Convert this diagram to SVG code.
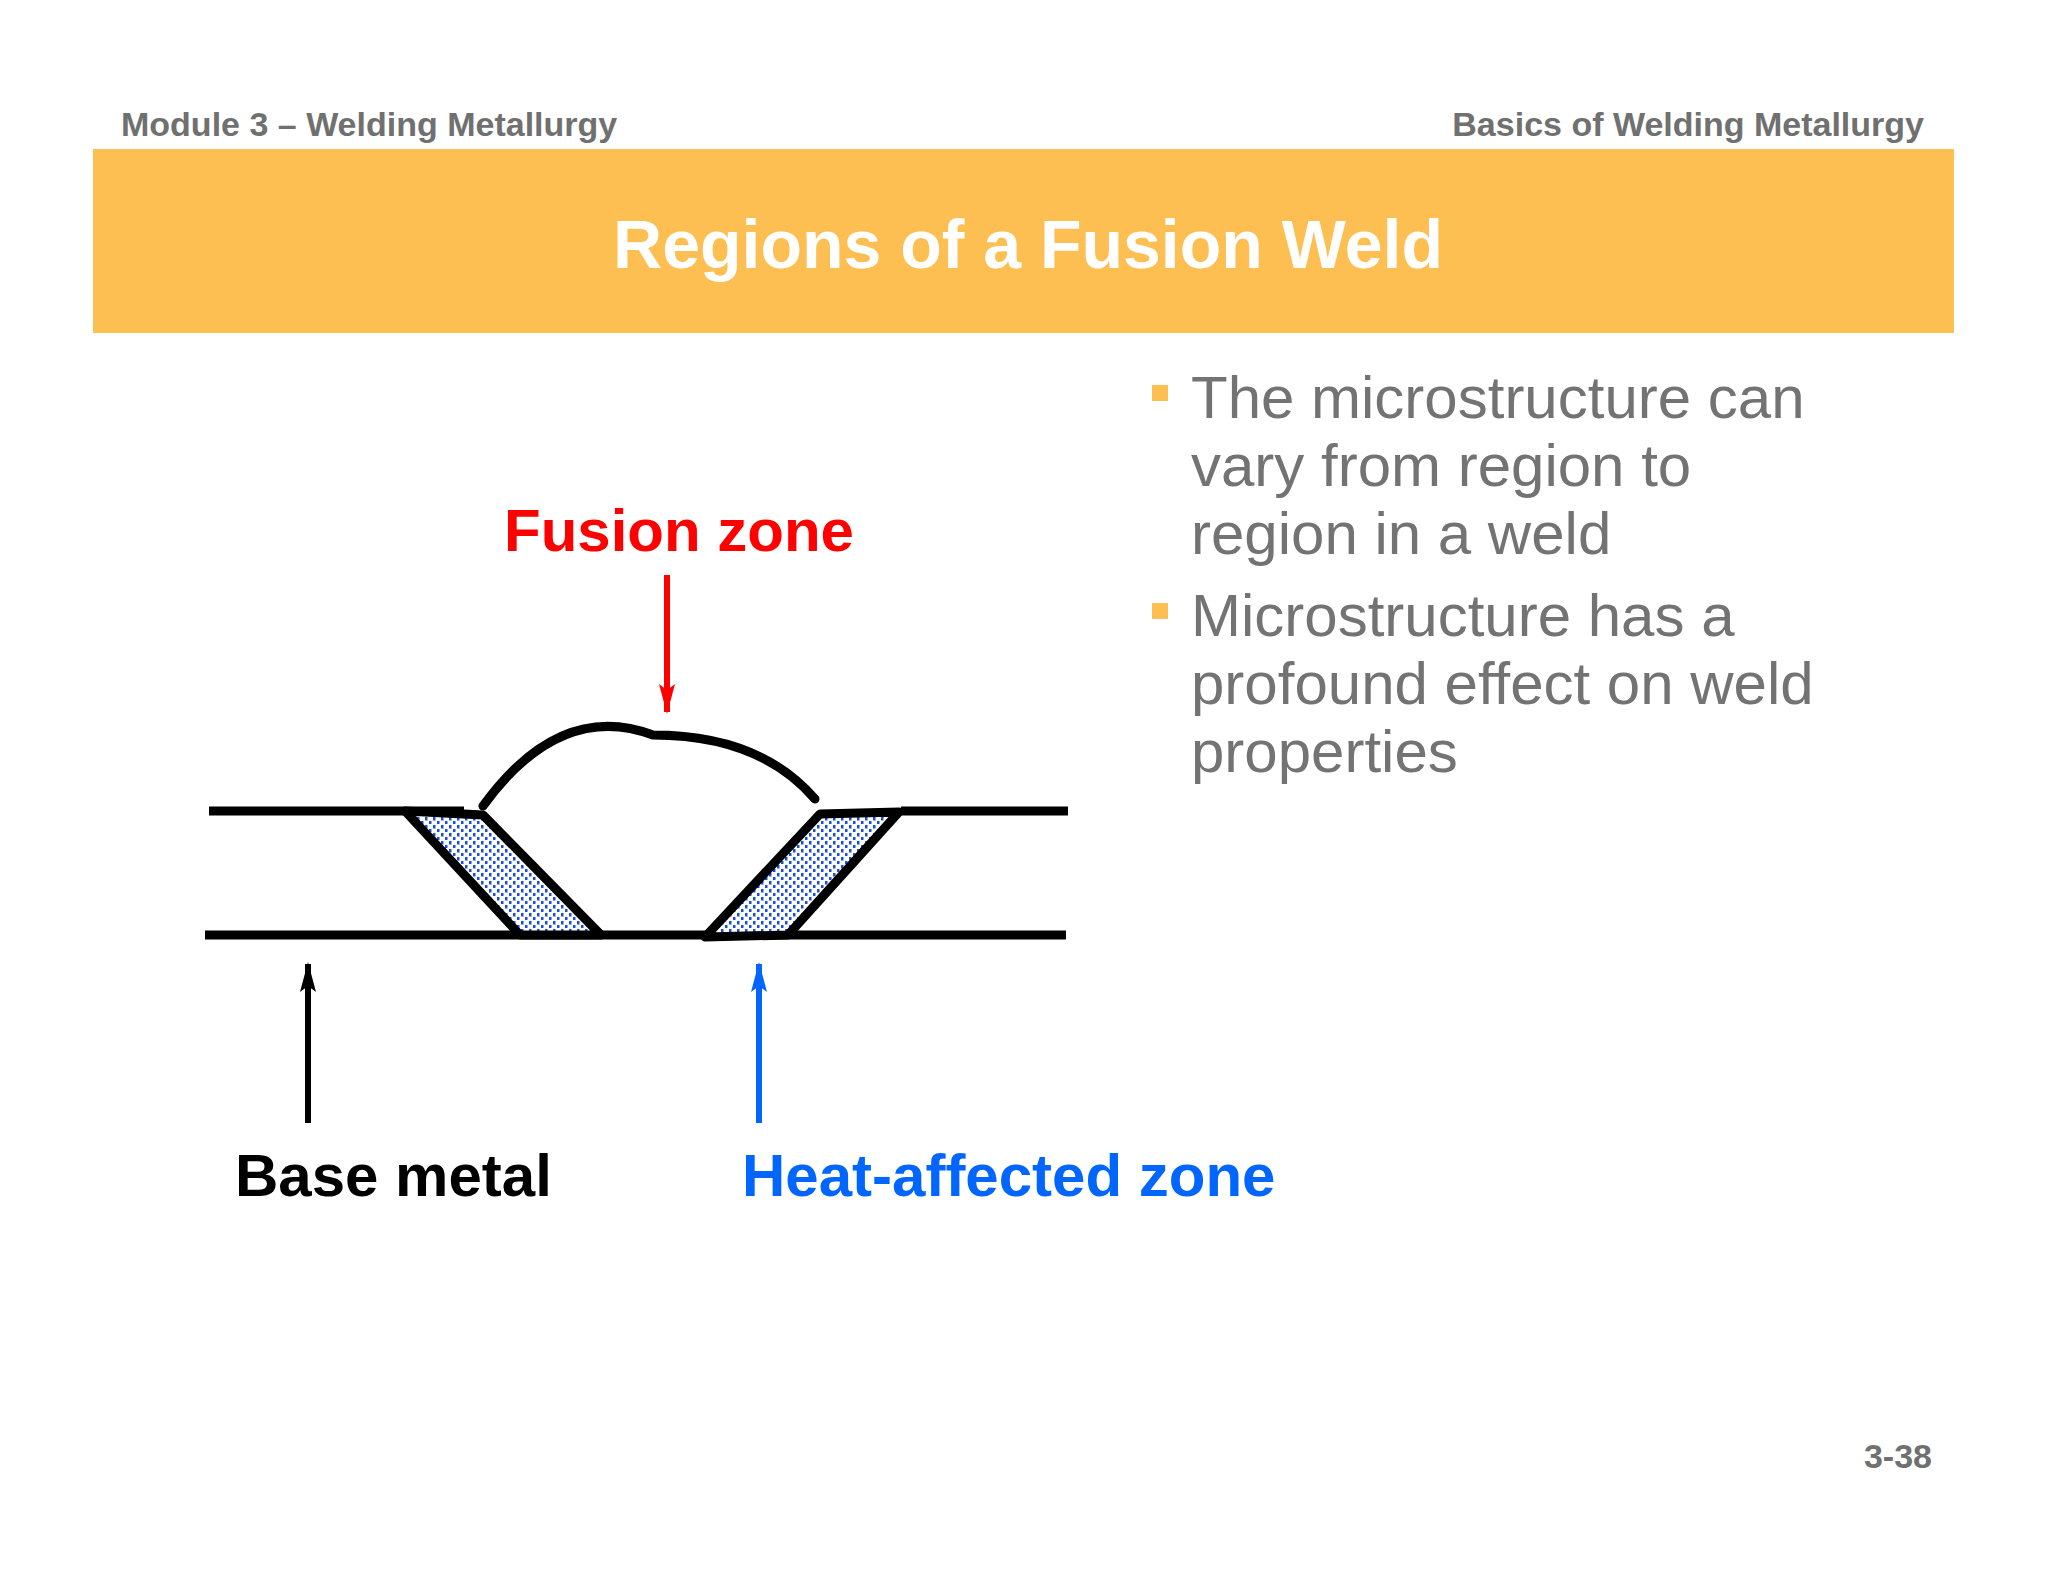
<svg xmlns="http://www.w3.org/2000/svg" width="2048" height="1582" viewBox="0 0 2048 1582">
<style>
.hdr{font-family:"Liberation Sans",Arial,sans-serif;font-weight:bold;font-size:34px;fill:#707070}
.bul{font-family:"Liberation Sans",Arial,sans-serif;font-size:60px;fill:#737373}
.lbl{font-family:"Liberation Sans",Arial,sans-serif;font-weight:bold;font-size:60px}
.ln{stroke:#000;stroke-width:9;fill:none}
</style>
<defs>
<pattern id="dots" width="8" height="8" patternUnits="userSpaceOnUse">
<rect width="8" height="8" fill="#ffffff"/>
<rect x="1" y="1" width="2.5" height="3.5" fill="#1a4fd6"/>
<rect x="5" y="5" width="2.5" height="3.5" fill="#1a4fd6"/>
</pattern>
<marker id="ar" markerWidth="8" markerHeight="8" refX="7" refY="4" orient="auto" markerUnits="userSpaceOnUse" viewBox="0 0 8 8"><path d="M0,0 L8,4 L0,8 Z" fill="context-stroke"/></marker>
<marker id="ar2" markerWidth="30" markerHeight="20" refX="28" refY="10" orient="auto" markerUnits="userSpaceOnUse"><path d="M0,2 L30,10 L0,18 L6,10 Z" fill="#ff0000"/></marker>
<marker id="ak" markerWidth="30" markerHeight="20" refX="28" refY="10" orient="auto" markerUnits="userSpaceOnUse"><path d="M0,2 L30,10 L0,18 L6,10 Z" fill="#000"/></marker>
<marker id="ab" markerWidth="30" markerHeight="20" refX="28" refY="10" orient="auto" markerUnits="userSpaceOnUse"><path d="M0,2 L30,10 L0,18 L6,10 Z" fill="#0066ff"/></marker>
</defs>
<rect width="2048" height="1582" fill="#fff"/>
<text class="hdr" x="121" y="136">Module 3 – Welding Metallurgy</text>
<text class="hdr" x="1924" y="136" text-anchor="end">Basics of Welding Metallurgy</text>
<rect x="93" y="149" width="1861" height="184" fill="#fdbe52"/>
<text x="1028" y="268" text-anchor="middle" font-family="Liberation Sans,Arial,sans-serif" font-weight="bold" font-size="68" fill="#fff">Regions of a Fusion Weld</text>
<g id="bullets">
<rect x="1152" y="385" width="16" height="16" fill="#fdbe52"/>
<text class="bul" x="1191" y="418">The microstructure can</text>
<text class="bul" x="1191" y="486">vary from region to</text>
<text class="bul" x="1191" y="554">region in a weld</text>
<rect x="1152" y="603" width="16" height="16" fill="#fdbe52"/>
<text class="bul" x="1191" y="636">Microstructure has a</text>
<text class="bul" x="1191" y="704">profound effect on weld</text>
<text class="bul" x="1191" y="772">properties</text>
</g>
<g id="weld">
<line class="ln" x1="209" y1="811" x2="464" y2="811"/>
<line class="ln" x1="901" y1="811" x2="1068" y2="811"/>
<line class="ln" x1="205" y1="935" x2="1066" y2="935"/>
<polygon points="405,811 483,815 601,935 520,935" fill="url(#dots)" stroke="#000" stroke-width="9" stroke-linejoin="round"/>
<polygon points="820,814 899,812 788,935 705,937" fill="url(#dots)" stroke="#000" stroke-width="9" stroke-linejoin="round"/>
<path class="ln" d="M483,806 Q560,700 653,735 Q760,735 815,799" stroke-linecap="round"/>
</g>
<g id="connectors">
<line x1="667" y1="575" x2="667" y2="712" stroke="#ff0000" stroke-width="6" marker-end="url(#ar2)"/>
<line x1="308" y1="1123" x2="308" y2="964" stroke="#000" stroke-width="6" marker-end="url(#ak)"/>
<line x1="759" y1="1123" x2="759" y2="964" stroke="#0066ff" stroke-width="6" marker-end="url(#ab)"/>
</g>
<text class="lbl" x="679" y="551" text-anchor="middle" fill="#ff0000">Fusion zone</text>
<text class="lbl" x="235" y="1196" fill="#000">Base metal</text>
<text class="lbl" x="742" y="1196" fill="#0066ff">Heat-affected zone</text>
<text class="hdr" x="1932" y="1468" text-anchor="end">3-38</text>
</svg>
